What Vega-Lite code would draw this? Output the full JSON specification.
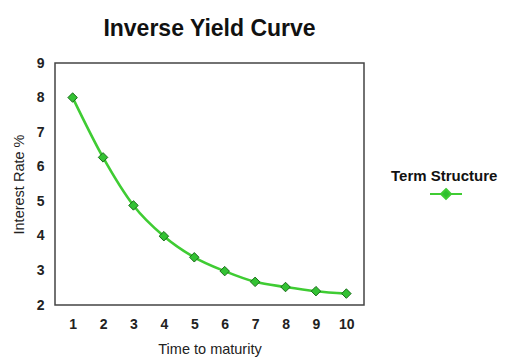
{
  "$schema": "https://vega.github.io/schema/vega-lite/v6.json",
  "autosize": "none",
  "width": 309,
  "height": 242,
  "padding": {"left": 55, "top": 63, "right": 156, "bottom": 59},
  "background": "white",
  "title": {
    "text": "Inverse Yield Curve",
    "font": "Liberation Sans",
    "fontSize": 23,
    "fontWeight": "bold",
    "color": "#111111",
    "anchor": "middle",
    "frame": "group",
    "baseline": "alphabetic",
    "offset": -3
  },
  "data": {
    "values": [
      {"t": 1, "rate": 8.0, "series": "Term Structure"},
      {"t": 2, "rate": 6.27, "series": "Term Structure"},
      {"t": 3, "rate": 4.88, "series": "Term Structure"},
      {"t": 4, "rate": 3.99, "series": "Term Structure"},
      {"t": 5, "rate": 3.38, "series": "Term Structure"},
      {"t": 6, "rate": 2.98, "series": "Term Structure"},
      {"t": 7, "rate": 2.67, "series": "Term Structure"},
      {"t": 8, "rate": 2.52, "series": "Term Structure"},
      {"t": 9, "rate": 2.4, "series": "Term Structure"},
      {"t": 10, "rate": 2.33, "series": "Term Structure"}
    ]
  },
  "encoding": {
    "x": {
      "field": "t",
      "type": "quantitative",
      "title": "Time to maturity",
      "scale": {"domain": [0.42, 10.58], "nice": false, "zero": false},
      "axis": {"values": [1, 2, 3, 4, 5, 6, 7, 8, 9, 10], "labelPadding": 12, "titlePadding": 11}
    },
    "y": {
      "field": "rate",
      "type": "quantitative",
      "title": "Interest Rate %",
      "scale": {"domain": [2, 9], "nice": false, "zero": false},
      "axis": {"values": [2, 3, 4, 5, 6, 7, 8, 9], "labelPadding": 11, "titlePadding": 10}
    }
  },
  "layer": [
    {
      "mark": {"type": "line", "interpolate": "monotone", "strokeWidth": 2.6, "color": "#4fd13f"},
      "encoding": {
        "color": {
          "field": "series",
          "type": "nominal",
          "scale": {"range": ["#3fcc33"]},
          "legend": {
            "orient": "none",
            "legendX": 336,
            "legendY": 106,
            "padding": 0,
            "title": "Term Structure",
            "titleFont": "Liberation Sans",
            "titleFontSize": 15,
            "titleFontWeight": "bold",
            "titleColor": "#111111",
            "titlePadding": -7,
            "labelExpr": "''",
            "symbolType": "M-1,0L-0.31,0M0.31,0L1,0M0,-0.31L0.31,0L0,0.31L-0.31,0Z",
            "symbolSize": 1024,
            "symbolStrokeWidth": 2,
            "symbolStrokeColor": "#3fcc33",
            "symbolFillColor": "#2fbf2f",
            "symbolOffset": 38
          }
        }
      }
    },
    {
      "mark": {"type": "point", "shape": "diamond", "size": 90, "filled": true, "fill": "#33c233", "stroke": "#1a6b1a", "strokeWidth": 1, "opacity": 1}
    }
  ],
  "config": {
    "font": "Liberation Sans",
    "view": {"stroke": "#444444", "strokeWidth": 1.5},
    "axis": {
      "domain": false,
      "ticks": false,
      "grid": false,
      "labelFont": "Liberation Sans",
      "labelFontSize": 14,
      "labelFontWeight": "bold",
      "labelColor": "#222222",
      "titleFont": "Liberation Sans",
      "titleFontSize": 14.5,
      "titleFontWeight": "normal",
      "titleColor": "#222222"
    }
  }
}
